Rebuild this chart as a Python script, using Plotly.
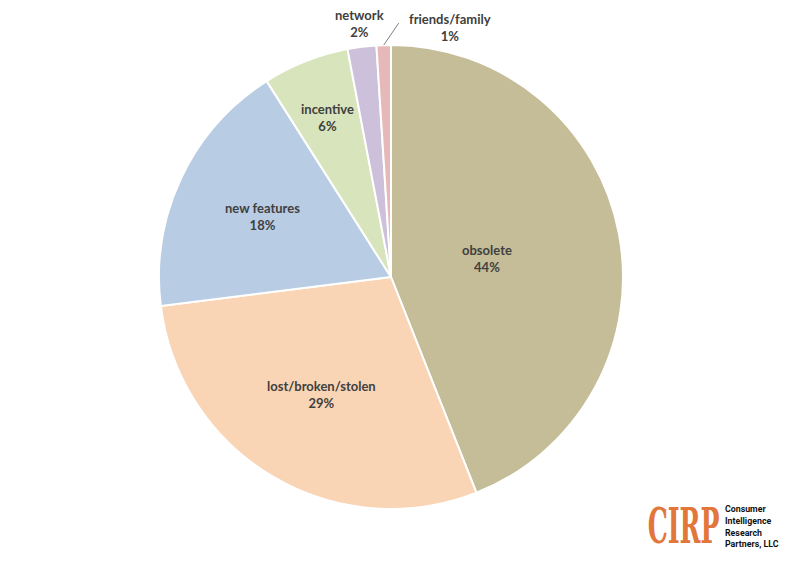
import math
import plotly.graph_objects as go

# ---- data ----
labels = ["obsolete", "lost/broken/stolen", "new features", "incentive", "network", "friends/family"]
values = [44, 29, 18, 6, 2, 1]
colors = ["#C4BD97", "#FAD5B5", "#B8CCE4", "#D8E4BC", "#CCC0DA", "#E6B9B8"]

# ---- style / layout ----
W, H = 791, 563
CX, CY, R = 391, 277, 232          # pie centre and radius in pixels
label_r = [0.42, 0.59, 0.61, 0.74, 1.10, None]   # label distance as fraction of radius
FONT = "Lato"
TXT = "#404040"

dom_x = [(CX - R) / W, (CX + R) / W]
dom_y = [1 - (CY + R) / H, 1 - (CY - R) / H]

fig = go.Figure(go.Pie(
    labels=labels, values=values, sort=False, direction="clockwise", rotation=0,
    marker=dict(colors=colors, line=dict(color="white", width=2)),
    textinfo="none", hoverinfo="label+percent", showlegend=False,
    domain=dict(x=dom_x, y=dom_y),
))

total = sum(values)


def polar(frac_angle, rfrac):
    th = 2 * math.pi * frac_angle
    px = CX + R * rfrac * math.sin(th)
    py = CY - R * rfrac * math.cos(th)
    return px, py


def to_paper(px, py):
    return px / W, 1 - py / H


annotations = []
shapes = []
cum = 0
for lab, v, rf in zip(labels, values, label_r):
    mid = (cum + v / 2) / total
    cum += v
    pct = f"{round(100 * v / total)}%"
    if rf is not None:
        px, py = polar(mid, rf)
        x, y = to_paper(px, py)
        annotations.append(dict(x=x, y=y, xref="paper", yref="paper", text=f"{lab}<br>{pct}",
                                showarrow=False, font=dict(family=FONT, size=13, color=TXT, weight="bold"),
                                xanchor="center", yanchor="middle"))
    else:
        # leader line from slice edge
        sx, sy = polar(mid, 1.0)
        ex, ey = sx + 15, sy - 22
        x0, y0 = to_paper(sx, sy)
        x1, y1 = to_paper(ex, ey)
        shapes.append(dict(type="line", xref="paper", yref="paper", x0=x0, y0=y0, x1=x1, y1=y1,
                           line=dict(color="#7F7F7F", width=1)))
        tx, ty = to_paper(ex + 51, ey + 4)
        annotations.append(dict(x=tx, y=ty, xref="paper", yref="paper", text=f"{lab}<br>{pct}",
                                showarrow=False, font=dict(family=FONT, size=13, color=TXT, weight="bold"),
                                xanchor="center", yanchor="middle"))

# CIRP logo (real text, horizontally condensed afterwards by a small script)
annotations.append(dict(x=722 / W, y=1 - 526 / H, xref="paper", yref="paper", text="CIRP",
                        showarrow=False, xanchor="right", yanchor="middle",
                        font=dict(family="DejaVu Serif", size=48, color="#E2773B", weight="bold")))
annotations.append(dict(x=723 / W, y=1 - 527 / H, xref="paper", yref="paper",
                        text="Consumer<br>Intelligence<br>Research<br>Partners, LLC",
                        showarrow=False, xanchor="left", yanchor="middle", align="left",
                        font=dict(family="Roboto", size=11, color="#111111", weight="bold")))

fig.update_layout(
    width=W, height=H, margin=dict(l=0, r=0, t=0, b=0),
    paper_bgcolor="white", plot_bgcolor="white",
    annotations=annotations, shapes=shapes,
)

post = """
document.body.style.margin='0';document.body.style.overflow='hidden';
function squeeze(){
  document.querySelectorAll('text.annotation-text').forEach(function(t){
    var s = t.textContent;
    var b = t.getBBox();
    if (s === 'CIRP') {
      var sx = 72 / b.width, ax = b.x + b.width, cy = b.y + b.height/2;
      t.setAttribute('transform','translate('+ax+','+cy+') scale('+sx+',1) translate('+(-ax)+','+(-cy)+')');
    } else if (s.indexOf('Consumer') === 0) {
      var ax2 = b.x, cy2 = b.y + b.height/2;
      t.setAttribute('transform','translate('+ax2+','+cy2+') scale(0.80,0.82) translate('+(-ax2)+','+(-cy2)+')');
    }
  });
}
squeeze();
"""

fig.write_html("out.html", post_script=post, config={"displayModeBar": False})
